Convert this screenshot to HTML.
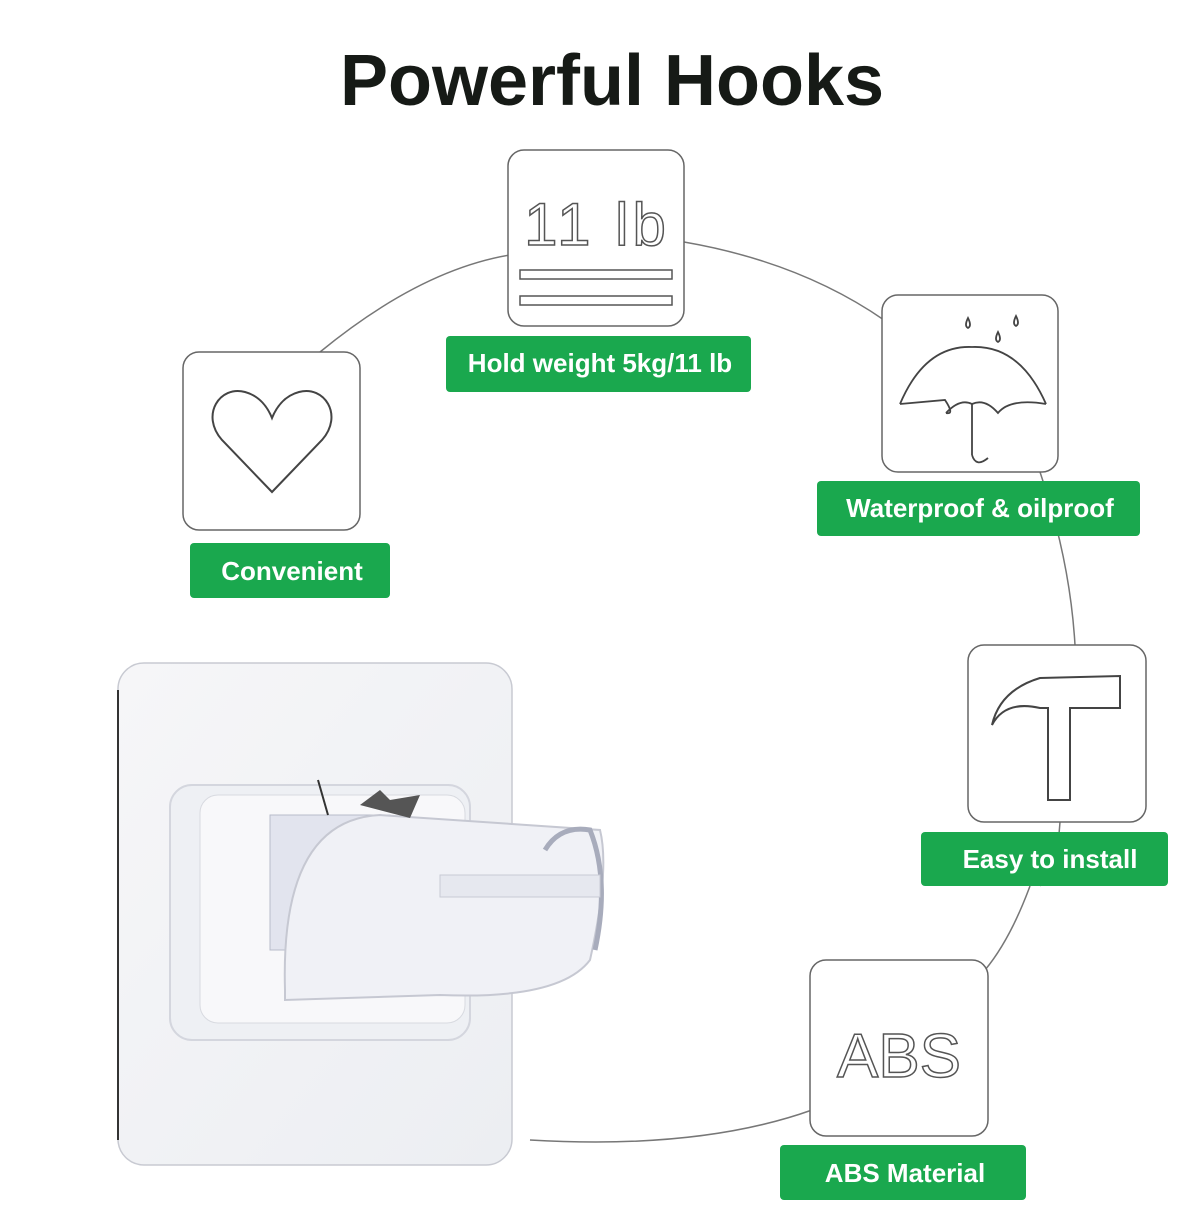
<!DOCTYPE html>
<html><head><style>
body{margin:0;width:1200px;height:1200px;background:#fff;overflow:hidden;font-family:"Liberation Sans",sans-serif}
</style></head><body>
<svg width="1200" height="1200" viewBox="0 0 1200 1200" xmlns="http://www.w3.org/2000/svg">
<defs>
<linearGradient id="pl" x1="0" y1="0" x2="1" y2="1"><stop offset="0" stop-color="#f6f6f8"/><stop offset="1" stop-color="#eceef2"/></linearGradient>
</defs>
<text x="612" y="105" text-anchor="middle" font-family="Liberation Sans" font-weight="bold" font-size="72" fill="#161a16">Powerful Hooks</text>
<path d="M320 352 Q420 270 510 255 M684 242 Q800 262 884 320 M1040 472 Q1070 560 1075 645 M1060 822 Q1058 860 1040 886 M1030 886 Q1010 940 985 970 M812 1110 Q700 1150 530 1140" fill="none" stroke="#777" stroke-width="1.5"/>
<g fill="#fff" stroke="#666" stroke-width="1.5">
<rect x="508" y="150" width="176" height="176" rx="16"/>
<rect x="183" y="352" width="177" height="178" rx="16"/>
<rect x="882" y="295" width="176" height="177" rx="16"/>
<rect x="968" y="645" width="178" height="177" rx="16"/>
<rect x="810" y="960" width="178" height="176" rx="16"/>
</g>
<text x="597" y="245" text-anchor="middle" font-size="60" fill="#fff" stroke="#555" stroke-width="1.5" letter-spacing="4">11 lb</text>
<rect x="520" y="270" width="152" height="9" fill="none" stroke="#555" stroke-width="1.5"/>
<rect x="520" y="296" width="152" height="9" fill="none" stroke="#555" stroke-width="1.5"/>
<path d="M272 492 L222 440 C200 415 220 385 245 392 C260 396 268 408 272 418 C276 408 284 396 299 392 C324 385 344 415 322 440 Z" fill="none" stroke="#444" stroke-width="2"/>
<g fill="none" stroke="#444" stroke-width="1.8">
<path d="M900 404 Q925 345 972 347 Q1020 345 1046 404"/>
<path d="M900 404 L945 400 Q955 415 946 413 M946 413 Q960 398 972 404 Q985 398 998 413 Q1010 398 1046 404"/>
<line x1="972" y1="404" x2="972" y2="455"/>
<path d="M972 455 Q976 468 988 458"/>
<path d="M968 318 q-4 8 0 10 q4 -2 0 -10z M998 332 q-4 8 0 10 q4 -2 0 -10z M1016 316 q-4 8 0 10 q4 -2 0 -10z"/>
</g>
<path d="M992 725 Q1000 690 1040 678 L1120 676 L1120 708 L1070 708 L1070 800 L1048 800 L1048 708 L1040 708 Q1005 700 992 725 Z" fill="none" stroke="#444" stroke-width="2"/>
<text x="899" y="1077" text-anchor="middle" font-size="62" fill="#fff" stroke="#555" stroke-width="1.5">ABS</text>
<g fill="#1aa84e">
<rect x="446" y="336" width="305" height="56" rx="4"/>
<rect x="190" y="543" width="200" height="55" rx="4"/>
<rect x="817" y="481" width="323" height="55" rx="4"/>
<rect x="921" y="832" width="247" height="54" rx="4"/>
<rect x="780" y="1145" width="246" height="55" rx="4"/>
</g>
<g fill="#fff" font-weight="bold" font-size="26" text-anchor="middle">
<text x="600" y="372">Hold weight 5kg/11 lb</text>
<text x="292" y="580">Convenient</text>
<text x="980" y="517">Waterproof &amp; oilproof</text>
<text x="1050" y="868">Easy to install</text>
<text x="905" y="1182">ABS Material</text>
</g>
<rect x="118" y="663" width="394" height="502" rx="26" fill="url(#pl)" stroke="#c8cad2" stroke-width="1.5"/>
<path d="M118 690 L118 1140" stroke="#333" stroke-width="2"/>
<rect x="170" y="785" width="300" height="255" rx="22" fill="#eef0f4" stroke="#d4d6de" stroke-width="2"/>
<rect x="200" y="795" width="265" height="228" rx="18" fill="#f8f8fa" stroke="#d8dae0"/>
<rect x="270" y="815" width="120" height="135" fill="#e2e4ee" stroke="#b8bcca"/>
<path d="M285 990 Q280 820 380 815 L600 830 Q610 870 590 960 Q560 1000 440 995 L285 1000 Z" fill="#f0f1f6" stroke="#c6c8d2" stroke-width="2"/>
<path d="M545 850 Q560 825 590 830 Q610 880 595 950" fill="none" stroke="#a8acbc" stroke-width="5"/>
<path d="M360 805 L380 790 L390 800 L420 795 L410 818 Z" fill="#555"/>
<line x1="318" y1="780" x2="328" y2="815" stroke="#333" stroke-width="2"/>
<rect x="440" y="875" width="160" height="22" fill="#e6e8ef" stroke="#c8cad4"/>
</svg>
</body></html>
